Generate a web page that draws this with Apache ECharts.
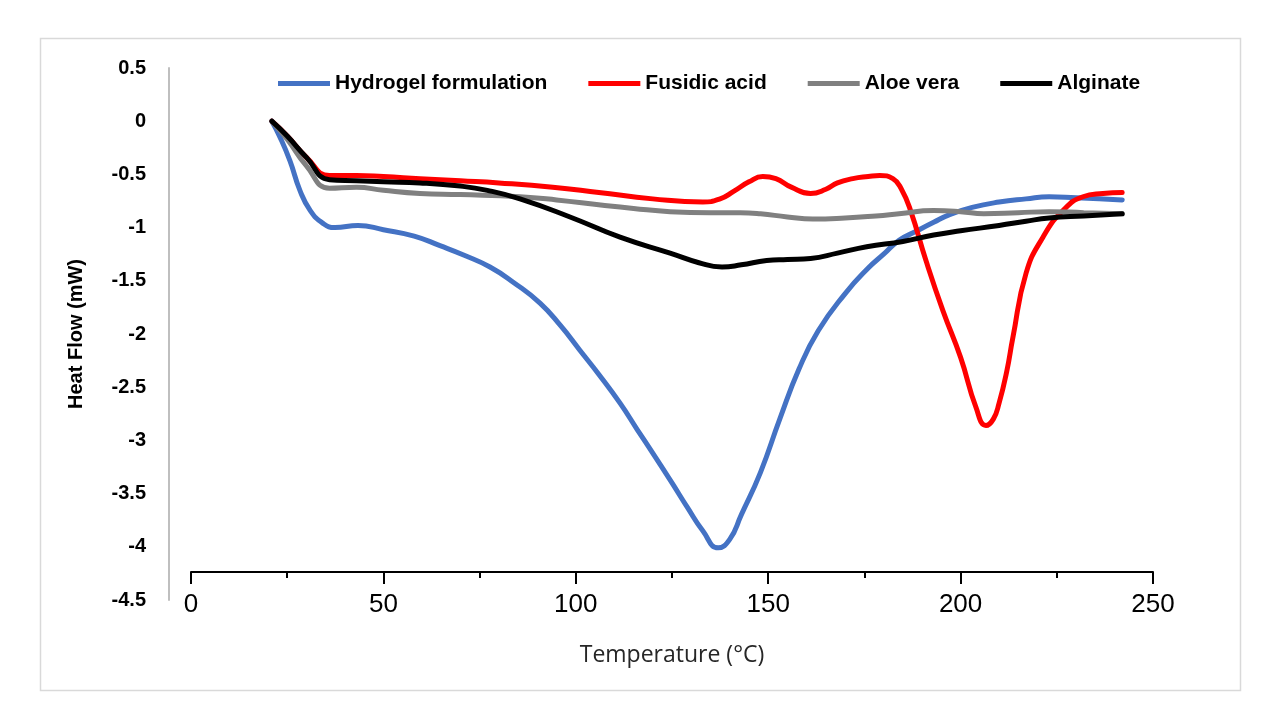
<!DOCTYPE html>
<html>
<head>
<meta charset="utf-8">
<script src="https://cdn.jsdelivr.net/npm/echarts@6/dist/echarts.min.js"></script>
<style>
  html, body { margin: 0; padding: 0; background: #fff; }
  #chart { width: 1280px; height: 720px; }
</style>
</head>
<body>
<div id="chart"></div>
<script>
// temperatures (°C) and heat flow (mW)
const hydrogelT = [21, 23, 25.7, 28.3, 31, 34.3, 37.4, 43.4, 50, 58, 64.7, 71, 77.7, 84, 90.7, 96, 101, 106, 111.5, 116, 120, 125, 129, 133, 137, 140, 143, 148, 153, 158, 163, 170, 176, 180, 184, 188.7, 193, 197, 203, 210, 217, 223, 230, 236, 242];
const hydrogelV = [0, -0.14, -0.37, -0.65, -0.84, -0.96, -1.0, -0.98, -1.02, -1.08, -1.17, -1.26, -1.37, -1.52, -1.71, -1.92, -2.15, -2.38, -2.65, -2.9, -3.12, -3.4, -3.63, -3.85, -4.01, -3.93, -3.7, -3.3, -2.8, -2.33, -1.97, -1.62, -1.38, -1.25, -1.12, -1.03, -0.95, -0.88, -0.81, -0.76, -0.73, -0.71, -0.72, -0.73, -0.74];

const fusidicT = [21, 25, 30, 36, 43, 50, 59.5, 70, 80, 94, 106, 120, 133, 137.5, 141, 145, 148.6, 152, 156, 161, 165, 168, 172, 176, 179, 182.4, 184.5, 187, 191, 195.4, 200, 204, 206.6, 208.5, 210, 212, 213.6, 217, 221.4, 226.6, 231.8, 237, 242];
const fusidicV = [0, -0.14, -0.34, -0.51, -0.51, -0.52, -0.54, -0.56, -0.58, -0.62, -0.67, -0.73, -0.76, -0.73, -0.66, -0.57, -0.52, -0.54, -0.62, -0.68, -0.64, -0.58, -0.54, -0.52, -0.51, -0.54, -0.63, -0.84, -1.31, -1.78, -2.22, -2.69, -2.86, -2.8, -2.65, -2.35, -2.03, -1.43, -1.09, -0.84, -0.71, -0.68, -0.67];

const aloeT = [21, 25, 30, 36, 43, 50, 59.5, 70, 85.5, 95, 107, 115, 124.5, 135, 142.7, 148, 155, 161.6, 170, 178, 184, 193, 200, 206, 215, 223, 232, 242];
const aloeV = [0, -0.17, -0.42, -0.63, -0.62, -0.65, -0.68, -0.69, -0.71, -0.74, -0.79, -0.82, -0.85, -0.86, -0.86, -0.87, -0.9, -0.92, -0.91, -0.89, -0.87, -0.84, -0.85, -0.87, -0.86, -0.85, -0.86, -0.87];

const alginateT = [21, 25, 30, 36, 43, 50, 59.5, 70, 77, 85.5, 98.5, 111.5, 124.5, 132, 138, 143, 149.6, 155, 161, 168, 175.6, 185, 193, 200, 210, 217, 223, 232, 242];
const alginateV = [0, -0.14, -0.34, -0.55, -0.56, -0.57, -0.58, -0.61, -0.65, -0.73, -0.9, -1.09, -1.24, -1.33, -1.37, -1.35, -1.31, -1.3, -1.29, -1.24, -1.18, -1.13, -1.07, -1.03, -0.98, -0.94, -0.91, -0.89, -0.87];

const seriesNames = ['Hydrogel formulation', 'Fusidic acid', 'Aloe vera', 'Alginate'];
const seriesColors = ['#4472C4', '#FF0000', '#808080', '#000000'];

const pairs = (xs, ys) => xs.map((x, i) => [x, ys[i]]);
const allData = [
  pairs(hydrogelT, hydrogelV),
  pairs(fusidicT, fusidicV),
  pairs(aloeT, aloeV),
  pairs(alginateT, alginateV)
];

const chart = echarts.init(document.getElementById('chart'));

const option = {
  animation: false,
  backgroundColor: '#fff',
  graphic: [{
    type: 'rect',
    shape: { x: 40.5, y: 38.5, width: 1200, height: 652 },
    style: { fill: 'none', stroke: '#d9d9d9', lineWidth: 1.5 },
    silent: true
  }],
  legend: {
    left: 278,
    top: 73,
    padding: 0,
    icon: 'rect',
    itemWidth: 52,
    itemHeight: 5,
    itemGap: 41,
    textStyle: { fontFamily: 'Liberation Sans', fontWeight: 'bold', fontSize: 21, color: '#000' },
    data: seriesNames
  },
  grid: { left: 191, right: 127, top: 68, bottom: 120 },
  xAxis: {
    type: 'value',
    min: 0,
    max: 250,
    interval: 50,
    offset: -28,
    name: 'Temperature (°C)',
    nameLocation: 'middle',
    nameGap: 72,
    nameTextStyle: { fontFamily: 'Open Sans', fontSize: 23, color: '#262626' },
    axisLine: { show: true, onZero: false, lineStyle: { color: '#000', width: 2 } },
    axisTick: { show: true, length: 12, lineStyle: { color: '#000', width: 2 } },
    minorTick: { show: true, splitNumber: 2, length: 6, lineStyle: { color: '#000', width: 2 } },
    axisLabel: { margin: 20, fontFamily: 'Liberation Sans', fontSize: 26, color: '#000' },
    splitLine: { show: false }
  },
  yAxis: {
    type: 'value',
    min: -4.5,
    max: 0.5,
    interval: 0.5,
    offset: 22,
    name: 'Heat Flow (mW)',
    nameLocation: 'middle',
    nameGap: 83,
    nameTextStyle: { fontFamily: 'Liberation Sans', fontWeight: 'bold', fontSize: 20, color: '#000' },
    axisLine: { show: true, onZero: false, lineStyle: { color: '#bfbfbf', width: 2 } },
    axisTick: { show: false },
    axisLabel: { margin: 23, fontFamily: 'Liberation Sans', fontWeight: 'bold', fontSize: 20, color: '#000' },
    splitLine: { show: false }
  },
  series: allData.map((d, i) => ({
    name: seriesNames[i],
    type: 'line',
    data: d,
    smooth: 0.5,
    showSymbol: false,
    color: seriesColors[i],
    lineStyle: { width: 5, color: seriesColors[i], cap: 'round', join: 'round' }
  }))
};

chart.setOption(option);
</script>
</body>
</html>
